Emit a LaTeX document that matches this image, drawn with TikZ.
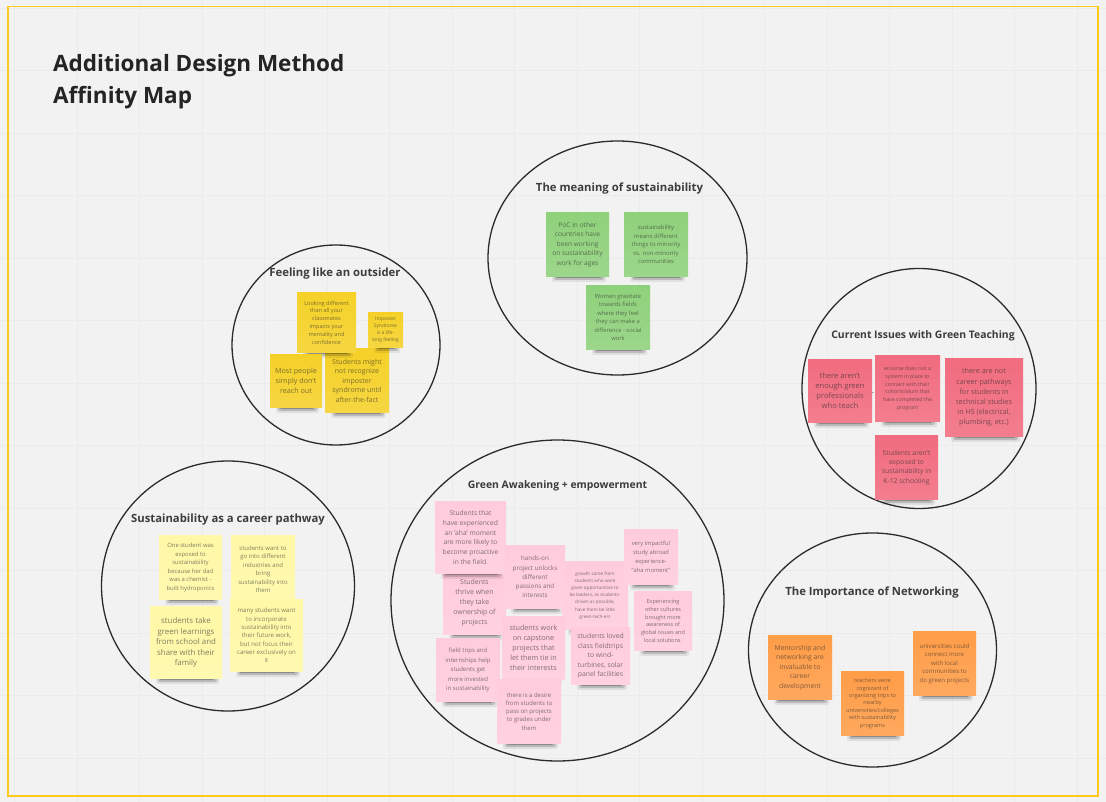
\documentclass[tikz,border=0pt]{standalone}
\usepackage{fontspec}
\setmainfont{Open Sans}
\usetikzlibrary{shapes.geometric}
\definecolor{bgc}{HTML}{F2F2F2}
\definecolor{gridc}{HTML}{EBEBEB}
\definecolor{framec}{HTML}{FDCB1A}
\definecolor{inkc}{HTML}{2B2B2B}
\definecolor{ylw}{HTML}{F5D128}
\definecolor{grn}{HTML}{8FD17B}
\definecolor{red}{HTML}{F16C7F}
\definecolor{pale}{HTML}{FFF8A6}
\definecolor{pnk}{HTML}{FFCBDD}
\definecolor{org}{HTML}{FF9D48}
\tikzset{
  x=1pt,y=-1pt,
  ring/.style={draw=inkc,line width=1.3pt,fill=none,ellipse,inner sep=0pt},
  heading/.style={font=\fontsize{11.3}{13}\selectfont\bfseries,text=inkc!92},
  headingsmall/.style={font=\fontsize{10.4}{12}\selectfont\bfseries,text=inkc!92},
  note/.style={inner sep=0pt,align=center,text opacity=.58,text=black!85}
}
% name x1 y1 x2 y2 colour fontsize leading text
\newcommand\sticky[9]{%
  \pgfmathsetmacro\sx{(#2+#4)/2}\pgfmathsetmacro\sy{(#3+#5)/2+.5}%
  \pgfmathsetmacro\sw{#4-#2}\pgfmathsetmacro\sh{#5-#3}%
  \fill[black,opacity=.07,rounded corners=2pt] (#2+6,#5-3) rectangle (#4-3,#5+6);
  \fill[black,opacity=.16,rounded corners=2pt] (#2+8,#5-3) rectangle (#4-5,#5+4);
  \fill[black,opacity=.25,rounded corners=1pt] (#2+10,#5-3) rectangle (#4-8,#5+2);
  \node[note,top color=#6,bottom color=#6!88!white,minimum width=\sw pt,minimum height=\sh pt,
        font=\fontsize{#7}{#8}\selectfont] (#1) at (\sx,\sy) {#9};
}
\begin{document}
\begin{tikzpicture}
\useasboundingbox (0,0) rectangle (1106,802);
\fill[bgc] (0,0) rectangle (1106,802);
\foreach \k in {0,...,17} \draw[gridc,line width=.8pt] ({14.5+62.5*\k},0) -- ({14.5+62.5*\k},802);
\foreach \k in {0,...,12} \draw[gridc,line width=.8pt] (0,{8+62.5*\k}) -- (1106,{8+62.5*\k});
\draw[framec,line width=1.7pt] (8,6.5) rectangle (1098,796);

\node[anchor=north west,align=left,inner sep=0pt,font=\fontsize{22.5}{32}\selectfont\bfseries,text=inkc!85!black] (title) at (53,54) {Additional Design Method\\Affinity Map};

\node[ring,minimum width=208pt,minimum height=200pt] (c1) at (336,345) {};
\node[ring,minimum width=259pt,minimum height=234pt] (c2) at (617.5,258) {};
\node[ring,minimum width=234pt,minimum height=240pt] (c3) at (919,388.5) {};
\node[ring,minimum width=253pt,minimum height=250pt] (c4) at (228,586) {};
\node[ring,minimum width=333pt,minimum height=321pt] (c5) at (557.5,600.5) {};
\node[ring,minimum width=248pt,minimum height=234pt] (c6) at (872.5,650) {};

\node[heading] (h1) at (335,273.5) {Feeling like an outsider};
\node[heading] (h2) at (619.5,188.5) {The meaning of sustainability};
\node[headingsmall] (h3) at (923,335.5) {Current Issues with Green Teaching};
\node[heading] (h4) at (228,519.5) {Sustainability as a career pathway};
\node[headingsmall] (h5) at (557.5,485.5) {Green Awakening + empowerment};
\node[heading] (h6) at (872,592.5) {The Importance of Networking};

% Feeling
\sticky{a4}{325}{348}{389}{412}{ylw}{7}{9.5}{Students might\\not recognize\\imposter\\syndrome until\\after-the-fact}
\sticky{a1}{297}{292}{356}{352}{ylw}{5.6}{7.8}{Looking different\\than all your\\classmates\\impacts your\\mentality and\\confidence}
\sticky{a2}{368}{312}{403}{347}{ylw}{4.9}{6.9}{Imposter\\Syndrome\\is a life-\\long feeling}
\sticky{a3}{270}{354}{322}{407}{ylw}{7.2}{9.8}{Most people\\simply don't\\reach out}

% Meaning
\sticky{b1}{546}{212}{609}{276}{grn}{6.6}{9.4}{PoC in other\\countries have\\been working\\on sustainability\\work for ages}
\sticky{b2}{624}{212}{688}{276}{grn}{5.9}{8.5}{sustainability\\means different\\things to minority\\vs. non-minority\\communities}
\sticky{b3}{586}{285}{650}{349}{grn}{5.8}{8.5}{Women gravitate\\towards fields\\where they feel\\they can make a\\difference - social\\work}

% Current
\sticky{d1}{808}{359}{872}{422}{red}{7.6}{10}{there aren't\\enough green\\professionals\\who teach}
\sticky{d2}{875}{355}{940}{421}{red}{5.3}{7.7}{ecourse does not a\\system in place to\\connect with their\\cohorts/alum that\\have completed the\\program}
\sticky{d3}{945}{358}{1023}{436}{red}{7.2}{10.2}{there are not\\career pathways\\for students in\\technical studies\\in HS (electrical,\\plumbing, etc.)}
\sticky{d4}{875}{435}{938}{499}{red}{6.8}{9.4}{Students aren't\\exposed to\\sustainability in\\K-12 schooling}
\coordinate (tickA) at (871.5,392); \coordinate (tickB) at (874,393);
\draw[black!45,line width=.6pt] (tickA) -- (tickB);

% Sustainability
\sticky{e2}{231}{535}{295}{602}{pale}{6}{8.5}{students want to\\go into different\\industries and\\bring\\sustainability into\\them}
\sticky{e1}{159}{535}{222}{599}{pale}{5.9}{8.5}{One student was\\exposed to\\sustainability\\because her dad\\was a chemist -\\built hydroponics}
\sticky{e3}{230}{599}{303}{671}{pale}{6.1}{8.3}{many students want\\to incorporate\\sustainability into\\their future work,\\but not focus their\\career exclusively on\\it}
\sticky{e4}{150}{606}{222}{678}{pale}{7.9}{10.5}{students take\\green learnings\\from school and\\share with their\\family}

% Green
\sticky{f3}{443}{570}{506}{634}{pnk}{6.9}{10}{Students\\thrive when\\they take\\ownership of\\projects}
\sticky{f1}{435}{501}{506}{573}{pnk}{6.7}{9.6}{Students that\\have experienced\\an 'aha' moment\\are more likely to\\become proactive\\in the field.}
\sticky{f4}{562}{561}{628}{629}{pnk}{4.6}{7.2}{growth came from\\students who were\\given opportunities to\\be leaders, as students-\\driven as possible,\\have them be little\\green-tech-ers}
\sticky{f2}{505}{545}{565}{608}{pnk}{6.3}{9.3}{hands-on\\project unlocks\\different\\passions and\\interests}
\sticky{f7}{571}{627}{630}{684}{pnk}{6.8}{9.4}{students loved\\class fieldtrips\\to wind-\\turbines, solar\\panel facilities}
\sticky{f5}{502}{616}{565}{679}{pnk}{7.2}{10}{students work\\on capstone\\projects that\\let them tie in\\their interests}
\sticky{f6}{436}{638}{500}{701}{pnk}{6}{9.5}{field trips and\\internships help\\students get\\more invested\\in sustainability}
\sticky{f8}{497}{679}{561}{743}{pnk}{6}{8.2}{there is a desire\\from students to\\pass on projects\\to grades under\\them}
\sticky{f9}{624}{529}{678}{584}{pnk}{5.8}{9}{very impactful\\study abroad\\experience-\\"aha moment"}
\sticky{f10}{634}{591}{692}{650}{pnk}{5.5}{7.8}{Experiencing\\other cultures\\brought more\\awareness of\\global issues and\\local solutions.}

% Networking
\sticky{g1}{768}{635}{832}{699}{org}{6.8}{9.5}{Mentorship and\\networking are\\invaluable to\\career\\development}
\sticky{g2}{841}{671}{904}{735}{org}{5.6}{7.4}{teachers were\\cognizant of\\organizing trips to\\nearby\\universities/colleges\\with sustainability\\programs}
\sticky{g3}{913}{631}{976}{695}{org}{6.1}{8.5}{universities could\\connect more\\with local\\communities to\\do green projects}
\end{tikzpicture}
\end{document}
